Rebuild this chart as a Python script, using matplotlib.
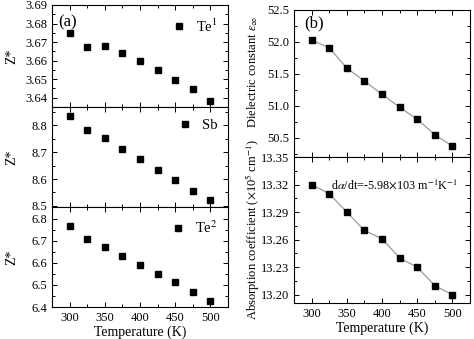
import matplotlib
matplotlib.use('Agg')
import matplotlib.pyplot as plt
from matplotlib.ticker import MultipleLocator

plt.rcParams['font.family'] = ['Liberation Serif', 'DejaVu Serif']
plt.rcParams['mathtext.fontset'] = 'stix'

temps = [300, 325, 350, 375, 400, 425, 450, 475, 500]
z_te1 = [3.6751, 3.6676, 3.6678, 3.6642, 3.6598, 3.6547, 3.6498, 3.6445, 3.6384]
z_sb = [8.835, 8.784, 8.754, 8.713, 8.676, 8.635, 8.596, 8.557, 8.522]
z_te2 = [6.767, 6.709, 6.673, 6.630, 6.590, 6.547, 6.515, 6.470, 6.429]
eps_inf = [52.03, 51.91, 51.59, 51.39, 51.18, 50.98, 50.79, 50.55, 50.37]
absorb = [13.320, 13.310, 13.290, 13.270, 13.261, 13.240, 13.230, 13.210, 13.200]

W, H = 474, 339
FS = 9


def box(x0, y0, x1, y1):
    # pixel box (top-left origin) -> figure fraction rect
    return [x0 / W, 1 - y1 / H, (x1 - x0) / W, (y1 - y0) / H]


def style(ax, ymaj, ymin, show_x):
    ax.set_xlim(275, 525)
    ax.xaxis.set_major_locator(MultipleLocator(50))
    ax.xaxis.set_minor_locator(MultipleLocator(25))
    ax.yaxis.set_major_locator(MultipleLocator(ymaj))
    ax.yaxis.set_minor_locator(MultipleLocator(ymin))
    ax.tick_params(which='both', direction='in', top=True, right=True,
                   labelsize=FS, width=0.7)
    ax.tick_params(which='major', length=3.5)
    ax.tick_params(which='minor', length=2)
    if not show_x:
        ax.tick_params(labelbottom=False)
    for s in ax.spines.values():
        s.set_linewidth(0.8)


fig = plt.figure(figsize=(W / 100, H / 100), dpi=100)

left_specs = [
    (z_te1, r'Te$^1$', (5, 107), (3.635, 3.69), 0.01, 0.005, '%.2f'),
    (z_sb, 'Sb', (107, 207), (8.496, 8.868), 0.1, 0.05, '%.1f'),
    (z_te2, r'Te$^2$', (207, 307), (6.4, 6.852), 0.1, 0.05, '%.1f'),
]
for i, (vals, lab, (y0, y1), ylim, ymaj, ymin, fmt) in enumerate(left_specs):
    ax = fig.add_axes(box(52, y0, 228, y1))
    ax.plot(temps, vals, 's', color='black', ms=4, label=lab)
    ax.set_ylim(*ylim)
    style(ax, ymaj, ymin, i == 2)
    ax.yaxis.set_major_formatter(plt.FormatStrFormatter(fmt))
    ax.legend(loc='upper right', frameon=False, numpoints=1, handlelength=0.8,
              handletextpad=0.8, fontsize=FS + 1.5, borderaxespad=0.3,
              bbox_to_anchor=(1.0, 0.98))
    fig.text(12 / W, 1 - (y0 + y1) / 2 / H, 'Z*', rotation=90,
             ha='center', va='center', fontsize=FS + 1)
    if i == 0:
        ax.text(0.035, 0.83, '(a)', transform=ax.transAxes, fontsize=FS + 3,
                ha='left', va='center')
    if i == 2:
        ax.set_xlabel('Temperature (K)', fontsize=FS + 1, labelpad=1)

# right column
ax1 = fig.add_axes(box(294, 10, 470, 157))
ax1.plot(temps, eps_inf, '-', color='#9a9a9a', lw=0.9)
ax1.plot(temps, eps_inf, 's', color='black', ms=4)
ax1.set_ylim(50.2, 52.5)
style(ax1, 0.5, 0.25, False)
ax1.yaxis.set_major_formatter(plt.FormatStrFormatter('%.1f'))
ax1.text(0.06, 0.91, '(b)', transform=ax1.transAxes, fontsize=FS + 3,
         ha='left', va='center')

ax2 = fig.add_axes(box(294, 157, 470, 303))
ax2.plot(temps, absorb, '-', color='#9a9a9a', lw=0.9)
ax2.plot(temps, absorb, 's', color='black', ms=4)
ax2.set_ylim(13.191, 13.35)
style(ax2, 0.03, 0.015, True)
ax2.yaxis.set_major_formatter(plt.FormatStrFormatter('%.2f'))
ax2.set_xlabel('Temperature (K)', fontsize=FS + 1, labelpad=1)
ax2.text(0.93, 0.81, r'd$\alpha$/dt=-5.98$\times$103 m$^{-1}$K$^{-1}$',
         transform=ax2.transAxes, fontsize=FS - 0.3, ha='right', va='center')

fig.text(253 / W, 1 - 72 / H, r'Dielectric constant $\varepsilon_\infty$',
         rotation=90, ha='center', va='center', fontsize=FS)
fig.text(253 / W, 1 - 230 / H, r'Absorption coefficient ($\times$10$^5$ cm$^{-1}$)',
         rotation=90, ha='center', va='center', fontsize=FS)

fig.savefig('out.png', dpi=100)
